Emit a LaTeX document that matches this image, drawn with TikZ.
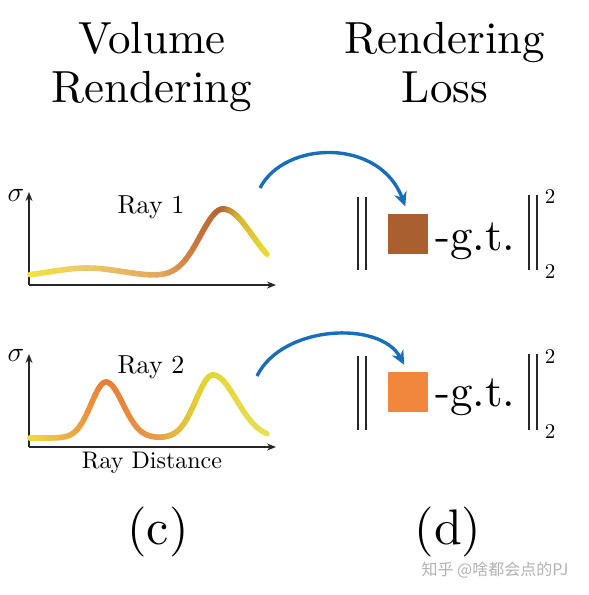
\documentclass[tikz,border=0pt]{standalone}
\usepackage{fontspec}
\usepackage{type1cm}
\setmainfont{lmroman10-regular}[Extension=.otf, ItalicFont=lmroman10-italic, BoldFont=lmroman10-bold]
\newfontfamily\cjkfont{Noto Sans CJK SC}
\usetikzlibrary{arrows.meta, positioning, calc}
\definecolor{ArcBlue}{RGB}{25,110,185}
\definecolor{BoxBrown}{RGB}{170,95,48}
\definecolor{BoxOrange}{RGB}{240,135,60}
% ray 1 colours
\definecolor{rA}{RGB}{240,228,60}
\definecolor{rB}{RGB}{238,200,110}
\definecolor{rC}{RGB}{228,165,90}
\definecolor{rD}{RGB}{200,115,60}
\definecolor{rE}{RGB}{180,100,50}
\definecolor{rF}{RGB}{215,180,50}
\definecolor{rG}{RGB}{232,220,50}
% ray 2 colours
\definecolor{sA}{RGB}{238,220,70}
\definecolor{sB}{RGB}{235,175,70}
\definecolor{sC}{RGB}{232,125,55}
\definecolor{sD}{RGB}{232,155,70}
\definecolor{sE}{RGB}{228,200,60}
\definecolor{sF}{RGB}{226,215,55}
\definecolor{sG}{RGB}{232,222,90}
\tikzset{
    axisline/.style={
        -{Stealth[length=9pt, width=7pt]},
        line width=1.7pt,
        color=black!85
    },
    raystroke/.style={
        line width=5.6pt,
        line cap=round
    },
    renderarrow/.style={
        -{Stealth[length=14pt, width=13pt]},
        line width=3.4pt,
        color=ArcBlue
    },
    normbar/.style={
        line width=2.8pt,
        color=black!85
    },
    colorbox/.style={
        rectangle,
        minimum size=40pt,
        inner sep=0pt
    },
    titletext/.style={
        font=\fontsize{45}{49}\selectfont,
        align=center,
        inner sep=0pt,
        anchor=north
    },
    raylabel/.style={
        font=\fontsize{26}{30}\selectfont,
        inner sep=0pt,
        anchor=base
    },
    sigmalabel/.style={
        font=\fontsize{28}{30}\selectfont,
        inner sep=0pt,
        anchor=base
    },
    gttext/.style={
        font=\fontsize{45}{50}\selectfont,
        inner sep=0pt,
        anchor=base west
    },
    normindex/.style={
        font=\fontsize{21}{24}\selectfont,
        inner sep=0pt
    },
    % Helper for the density curves
    declare function={
        gss(\d,\s)=exp(-(\d/\s)*(\d/\s));
        rayone(\t)=8+9*gss(\t-87,50)+68*gss(\t-223,ifthenelse(\t<223,32,42));
        raytwo(\t)=9+56*gss(\t-106,ifthenelse(\t<106,21,24))+63*gss(\t-213,ifthenelse(\t<213,24,33));
    }
}

\begin{document}
\begin{tikzpicture}[x=1pt, y=-1pt]
    \useasboundingbox (0,0) rectangle (589,595);

    % titles
    \node[titletext] (voltitle) at (152,22) {Volume\\Rendering};
    \node[titletext] (losstitle) at (445,22) {Rendering\\Loss};

    % ray 1
    \coordinate (orig1) at (29,285);
    \coordinate (ytip1) at (29,192);
    \coordinate (xtip1) at (276,285);
    \draw[axisline] (orig1) -- (ytip1);
    \draw[axisline] (orig1) -- (xtip1);
    \node[sigmalabel] (sig1) at (16,201) {$\sigma$};
    \node[raylabel] (ray1) at (151,213) {Ray 1};
    \foreach \xb/\cb [remember=\xb as \xa (initially 30), remember=\cb as \ca (initially rA)] in {87/rB, 165/rC, 200/rD, 223/rE, 240/rF, 267/rG}{
        \foreach \i in {0,...,9}{
            \pgfmathsetmacro\sa{\xa+(\xb-\xa)*\i/10}
            \pgfmathsetmacro\sb{\xa+(\xb-\xa)*(\i+1)/10}
            \pgfmathtruncatemacro\pc{95-10*\i}
            \draw[raystroke, color=\ca!\pc!\cb] plot[domain=\sa:\sb, samples=4] (\x, {285-rayone(\x)});
        }
    }

    % ray 2
    \coordinate (orig2) at (29,447);
    \coordinate (ytip2) at (29,354);
    \coordinate (xtip2) at (276,447);
    \draw[axisline] (orig2) -- (ytip2);
    \draw[axisline] (orig2) -- (xtip2);
    \node[sigmalabel] (sig2) at (16,361) {$\sigma$};
    \node[raylabel] (ray2) at (151,373) {Ray 2};
    \node[raylabel, font=\fontsize{24}{28}\selectfont] (dist) at (152,468) {Ray Distance};
    \foreach \xb/\cb [remember=\xb as \xa (initially 30), remember=\cb as \ca (initially sA)] in {70/sB, 106/sC, 157/sD, 190/sE, 213/sF, 267/sG}{
        \foreach \i in {0,...,9}{
            \pgfmathsetmacro\sa{\xa+(\xb-\xa)*\i/10}
            \pgfmathsetmacro\sb{\xa+(\xb-\xa)*(\i+1)/10}
            \pgfmathtruncatemacro\pc{95-10*\i}
            \draw[raystroke, color=\ca!\pc!\cb] plot[domain=\sa:\sb, samples=4] (\x, {447-raytwo(\x)});
        }
    }

    % losses
    \node[colorbox, fill=BoxBrown] (box1) at (408,234) {};
    \node[gttext] (gt1) at (435,250) {-g.t.};
    \draw[normbar] (358,197) -- (358,270);
    \draw[normbar] (366,197) -- (366,270);
    \draw[normbar] (529,195) -- (529,270);
    \draw[normbar] (537,195) -- (537,270);
    \node[normindex] (sup1) at (550,197) {2};
    \node[normindex] (sub1) at (550,272) {2};

    \node[colorbox, fill=BoxOrange] (box2) at (408,392) {};
    \node[gttext] (gt2) at (435,406) {-g.t.};
    \draw[normbar] (358,356) -- (358,430);
    \draw[normbar] (366,356) -- (366,430);
    \draw[normbar] (529,354) -- (529,430);
    \draw[normbar] (537,354) -- (537,430);
    \node[normindex] (sup2) at (550,357) {2};
    \node[normindex] (sub2) at (550,432) {2};

    % arrows
    \coordinate (ray1out) at (260,188);
    \coordinate (ray2out) at (257,376);
    \draw[renderarrow, shorten >=8pt] (ray1out) .. controls (285,140) and (380,138) .. (box1.north);
    \draw[renderarrow, shorten >=8pt] (ray2out) .. controls (282,325) and (380,320) .. (box2.north);

    % captions
    \node[inner sep=0pt, anchor=base, font=\fontsize{50}{56}\selectfont] (capc) at (158,544) {(c)};
    \node[inner sep=0pt, anchor=base, font=\fontsize{50}{56}\selectfont] (capd) at (448,544) {(d)};
    \node[inner sep=0pt, font=\cjkfont\fontsize{16}{18}\selectfont, color=gray!60] (mark) at (495,570) {知乎 @啥都会点的PJ};
\end{tikzpicture}
\end{document}
